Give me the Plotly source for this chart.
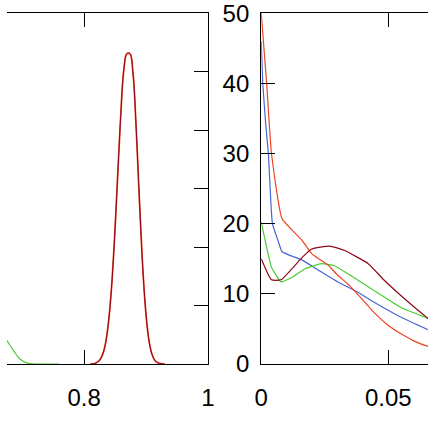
import plotly.graph_objects as go

# ---------- Left panel data (density near x ~ 0.87) ----------
left_peak_x = [0.810, 0.815, 0.819, 0.824, 0.829, 0.834, 0.839, 0.844, 0.849, 0.854, 0.859,
               0.864, 0.869, 0.874, 0.879, 0.884, 0.889, 0.894, 0.899, 0.904, 0.909,
               0.914, 0.919, 0.924, 0.930]
left_peak_darkred = [0.0, 0.05, 0.18, 0.52, 1.38, 3.2, 6.8, 12.7, 21.3, 31.8, 42.3,
                     50.2, 53.1, 53.1, 49.6, 40.4, 28.6, 17.7, 9.6, 4.5, 1.85,
                     0.66, 0.2, 0.05, 0.0]
left_peak_red = [0.0, 0.05, 0.18, 0.52, 1.38, 3.2, 6.8, 12.7, 21.3, 31.8, 42.3,
                 50.2, 53.0, 53.0, 49.6, 40.4, 28.6, 17.7, 9.6, 4.5, 1.85,
                 0.66, 0.2, 0.05, 0.0]
left_green_x = [0.640, 0.655, 0.665, 0.6755, 0.686, 0.6963, 0.7094, 0.720, 0.760]
left_green_y = [12.0, 8.0, 5.7, 4.0, 2.3, 0.85, 0.1, 0.0, 0.0]

# ---------- Right panel data (density near 0) ----------
darkred_x = [0, 0.004, 0.0078, 0.0161, 0.0199, 0.0269, 0.0326, 0.0421, 0.0485, 0.0548, 0.0656, 0.070]
darkred_y = [15.0, 12.0, 12.0, 15.2, 16.4, 16.8, 16.2, 14.3, 11.9, 9.8, 6.5, 5.3]

green_x = [0, 0.0028, 0.004, 0.0078, 0.0123, 0.0174, 0.0237, 0.0288, 0.0352, 0.0421, 0.0548, 0.0656, 0.070]
green_y = [20.2, 15.5, 13.8, 11.7, 12.4, 13.6, 14.3, 14.0, 12.6, 11.0, 8.1, 6.5, 5.7]

blue_x = [0, 0.0006, 0.0018, 0.0028, 0.0044, 0.0066, 0.0082, 0.0161, 0.0237, 0.0301,
          0.0377, 0.0421, 0.0548, 0.0656, 0.070]
blue_y = [46.0, 40.0, 34.0, 30.0, 20.0, 17.6, 16.0, 14.8, 13.1, 11.7,
          10.3, 9.3, 6.7, 4.9, 4.2]

red_x = [0, 0.0021, 0.004, 0.0082, 0.0161, 0.0199, 0.0263, 0.0294, 0.0352, 0.040,
         0.045, 0.050, 0.055, 0.060, 0.0656, 0.070]
red_y = [50.0, 40.1, 30.1, 20.7, 17.6, 15.7, 14.1, 12.9, 11.0, 9.1,
         7.1, 5.5, 4.3, 3.3, 2.5, 2.1]

left_xticks = [0.6, 0.8, 1.0]
left_xticklabels = ["0.6", "0.8", "1"]
right_xticks = [0, 0.05, 0.1]
right_xticklabels = ["0", "0.05", "0.1"]
right_yticks = [0, 10, 20, 30, 40, 50]

DARKRED = "#8B0A1A"
RED = "#EE4422"
BLUE = "#4466D8"
GREEN = "#4CCC33"

fig = go.Figure()

# left panel
fig.add_trace(go.Scatter(x=left_green_x, y=left_green_y, mode="lines",
                         line=dict(color=GREEN, width=1.2, shape="spline"),
                         xaxis="x", yaxis="y", showlegend=False))
fig.add_trace(go.Scatter(x=left_peak_x, y=left_peak_red, mode="lines",
                         line=dict(color=RED, width=1.7, shape="spline"),
                         xaxis="x", yaxis="y", showlegend=False))
fig.add_trace(go.Scatter(x=left_peak_x, y=left_peak_darkred, mode="lines",
                         line=dict(color=DARKRED, width=1.0, shape="spline"),
                         xaxis="x", yaxis="y", showlegend=False))

# right panel
for xs, ys, col in [(blue_x, blue_y, BLUE), (green_x, green_y, GREEN),
                    (red_x, red_y, RED), (darkred_x, darkred_y, DARKRED)]:
    fig.add_trace(go.Scatter(x=xs, y=ys, mode="lines",
                             line=dict(color=col, width=1.2, shape="spline", smoothing=0.4),
                             xaxis="x2", yaxis="y2", showlegend=False, cliponaxis=True))

FONT = dict(family="Liberation Sans, Arial, sans-serif", size=24, color="black")
axis_common = dict(showline=True, linecolor="black", linewidth=1.3,
                   ticks="inside", ticklen=14, tickwidth=1.3, tickcolor="black",
                   showgrid=False, zeroline=False, tickfont=FONT)

fig.update_layout(
    width=435, height=435,
    margin=dict(l=0, r=0, t=11, b=71),
    paper_bgcolor="white", plot_bgcolor="white",
    xaxis=dict(domain=[0, 207.7 / 435], range=[0.6755, 1.0],
               tickvals=left_xticks, ticktext=left_xticklabels,
               mirror="ticks", ticklabelstandoff=12, ticklabeloverflow="allow", **axis_common),
    yaxis=dict(domain=[0, 1], range=[0, 60], dtick=10, side="right",
               showticklabels=False, anchor="x", **axis_common),
    xaxis2=dict(domain=[262.7 / 435, 1], range=[0, 0.0656], anchor="y2",
                tickvals=right_xticks, ticktext=right_xticklabels,
                mirror="ticks", ticklabelstandoff=12, ticklabeloverflow="allow", **axis_common),
    yaxis2=dict(domain=[0, 1], range=[0, 50.02], tickvals=right_yticks,
                anchor="x2", side="left", ticklabelstandoff=6,
                ticklabeloverflow="allow", **axis_common),
)

fig.write_html("out.html")
